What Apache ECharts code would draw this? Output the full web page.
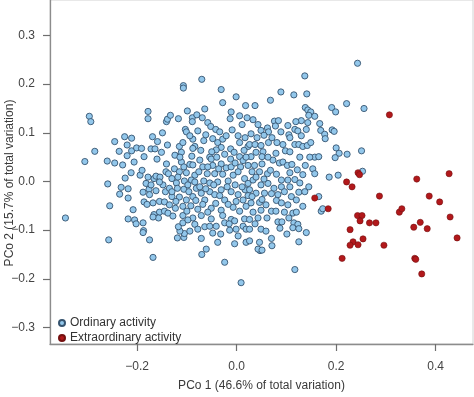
<!DOCTYPE html>
<html>
<head>
<meta charset="utf-8">
<script src="https://cdn.jsdelivr.net/npm/echarts@6/dist/echarts.min.js"></script>
<style>
html,body{margin:0;padding:0;background:#fff;}
#main{width:474px;height:397px;}
</style>
</head>
<body>
<div id="main"></div>
<script>
// PCo 1 / PCo 2 scores
var ordinary = [
	[-0.344,-0.075],[-0.305,0.041],[-0.296,0.134],[-0.293,0.123],[-0.285,0.062],[-0.260,0.042],[-0.245,0.038],
	[-0.259,-0.005],[-0.255,-0.050],[-0.257,-0.120],[-0.245,0.082],[-0.225,0.092],[-0.211,0.089],[-0.236,0.062],
	[-0.220,0.075],[-0.211,0.063],[-0.220,0.053],[-0.201,0.069],[-0.191,0.068],[-0.229,0.034],[-0.206,0.040],
	[-0.212,0.018],[-0.186,0.051],[-0.169,0.092],[-0.159,0.082],[-0.149,0.100],[-0.172,0.067],[-0.164,0.067],
	[-0.139,0.075],[-0.160,0.046],[-0.151,0.060],[-0.141,0.123],[-0.139,0.128],[-0.178,0.144],[-0.178,0.129],
	[-0.133,0.136],[-0.117,0.129],[-0.107,0.197],[-0.107,0.192],[-0.099,0.145],[-0.194,0.013],[-0.190,0.023],
	[-0.224,0.007],[-0.182,-0.004],[-0.166,0.006],[-0.162,0.011],[-0.154,0.009],[-0.141,0.036],[-0.142,0.020],
	[-0.137,0.016],[-0.232,-0.012],[-0.218,-0.015],[-0.235,-0.026],[-0.218,-0.034],[-0.208,-0.058],[-0.218,-0.077],
	[-0.205,-0.079],[-0.202,-0.087],[-0.188,-0.085],[-0.187,-0.101],[-0.188,-0.105],[-0.188,-0.022],[-0.176,-0.016],
	[-0.162,-0.019],[-0.175,-0.027],[-0.186,-0.042],[-0.180,-0.047],[-0.168,-0.044],[-0.155,-0.041],[-0.145,-0.042],
	[-0.155,-0.063],[-0.166,-0.068],[-0.157,-0.075],[-0.168,-0.073],[-0.145,-0.061],[-0.138,-0.065],[-0.175,-0.120],
	[-0.168,-0.156],[-0.172,-0.007],[-0.178,0.009],[-0.143,-0.021],[-0.148,-0.007],[-0.155,-0.001],[-0.119,-0.116],
	[-0.106,-0.115],[-0.105,-0.107],[-0.114,-0.102],[-0.117,-0.093],
	[-0.070,0.210],[-0.031,0.189],[-0.028,0.162],[-0.001,0.174],[0.018,0.156],[-0.089,0.131],[-0.089,0.123],
	[-0.080,0.137],[-0.064,0.149],[-0.069,0.131],[-0.011,0.143],[-0.013,0.129],[0.006,0.135],[0.021,0.131],
	[0.011,0.117],[-0.058,0.121],[-0.052,0.113],[-0.042,0.107],[-0.103,0.107],[-0.101,0.102],[-0.088,0.087],
	[-0.066,0.084],[-0.084,0.072],[-0.088,0.068],[-0.115,0.072],[-0.111,0.060],[-0.038,0.080],[-0.028,0.087],
	[-0.021,0.094],[-0.031,0.070],[-0.041,0.065],[-0.012,0.067],[0.006,0.080],[0.023,0.072],[-0.050,0.061],
	[-0.054,0.050],[-0.051,0.046],[-0.074,0.044],[-0.094,0.035],[-0.111,0.040],[-0.125,0.026],[-0.068,0.030],
	[-0.048,0.033],[-0.031,0.036],[-0.021,0.028],[-0.012,0.046],[0.006,0.051],[0.013,0.043],[0.008,0.030],
	[0.023,0.033],[-0.115,0.020],[-0.101,0.018],[-0.084,0.013],[-0.076,0.020],[-0.059,0.016],[-0.044,0.016],
	[-0.028,0.015],[-0.007,0.013],[0.003,0.020],[-0.130,0.006],[-0.121,-0.003],[-0.105,0.001],[-0.091,0.003],
	[-0.066,0.001],[-0.054,-0.003],[-0.038,-0.001],[-0.017,0.001],[0.016,0.006],[0.023,-0.004],[-0.135,-0.014],
	[-0.119,-0.014],[-0.106,-0.016],[-0.096,-0.021],[-0.081,-0.014],[-0.071,-0.024],[-0.054,-0.021],[-0.044,-0.027],
	[-0.031,-0.017],[-0.011,-0.021],[0.003,-0.027],[0.017,-0.017],[-0.130,-0.031],[-0.115,-0.032],[-0.101,-0.038],
	[-0.088,-0.031],[-0.064,-0.038],[-0.024,-0.038],[0.013,-0.038],[-0.135,-0.048],[-0.123,-0.055],[-0.108,-0.051],
	[-0.092,-0.050],[-0.078,-0.057],[-0.051,-0.055],[-0.031,-0.059],[-0.007,-0.053],[0.006,-0.061],[-0.128,-0.071],
	[-0.108,-0.070],[-0.088,-0.075],[-0.071,-0.070],[-0.051,-0.077],[-0.028,-0.070],[-0.011,-0.078],[0.016,-0.077],
	[-0.108,-0.085],[-0.084,-0.088],[-0.064,-0.093],[-0.054,-0.092],[-0.041,-0.092],[-0.024,-0.085],[-0.004,-0.081],
	[0.013,-0.092],[-0.014,-0.100],[-0.001,-0.098],[0.019,-0.098],[-0.071,-0.117],[-0.038,-0.125],[-0.004,-0.128],
	[0.019,-0.125],[-0.061,-0.139],[-0.070,-0.150],[-0.024,-0.166],[0.009,-0.208],[0.033,0.127],[0.037,0.156],
	[0.047,-0.142],
	[0.137,0.217],[0.089,0.184],[0.115,0.178],[0.141,0.180],[0.068,0.167],[0.138,0.152],[0.143,0.147],
	[0.149,0.143],[0.145,0.136],[0.043,0.117],[0.049,0.105],[0.062,0.110],[0.064,0.102],[0.076,0.124],
	[0.084,0.125],[0.078,0.114],[0.130,0.125],[0.143,0.121],[0.157,0.134],[0.167,0.119],[0.169,0.105],
	[0.177,0.097],[0.178,0.088],[0.117,0.107],[0.123,0.104],[0.130,0.094],[0.140,0.107],[0.105,0.096],
	[0.107,0.090],[0.055,0.095],[0.026,0.076],[0.037,0.076],[0.049,0.074],[0.064,0.080],[0.053,0.061],
	[0.051,0.051],[0.029,0.051],[0.093,0.076],[0.098,0.063],[0.107,0.061],[0.117,0.076],[0.125,0.076],
	[0.133,0.072],[0.142,0.074],[0.149,0.080],[0.157,0.050],[0.165,0.051],[0.147,0.050],[0.138,0.033],
	[0.153,0.026],[0.157,0.016],[0.073,0.044],[0.086,0.038],[0.093,0.040],[0.102,0.033],[0.111,0.035],
	[0.122,0.024],[0.036,0.033],[0.046,0.020],[0.062,0.016],[0.068,0.023],[0.080,0.015],[0.090,0.003],
	[0.103,0.003],[0.117,0.004],[0.127,-0.003],[0.033,0.003],[0.049,-0.007],[0.063,-0.004],[0.075,-0.014],
	[0.090,-0.011],[0.096,-0.021],[0.026,-0.017],[0.039,-0.024],[0.056,-0.024],[0.070,-0.025],[0.080,-0.039],
	[0.090,-0.044],[0.103,-0.048],[0.110,-0.031],[0.120,-0.038],[0.125,-0.022],[0.029,-0.044],[0.046,-0.043],
	[0.059,-0.048],[0.070,-0.061],[0.049,-0.059],[0.033,-0.063],[0.096,-0.063],[0.113,-0.065],[0.120,-0.063],
	[0.026,-0.078],[0.043,-0.075],[0.026,-0.098],[0.049,-0.098],[0.083,-0.083],[0.091,-0.083],[0.115,-0.085],
	[0.123,-0.088],[0.113,-0.095],[0.125,-0.097],[0.140,-0.105],[0.070,-0.117],[0.071,-0.132],[0.046,-0.125],
	[0.043,-0.139],[0.051,-0.141],[0.125,-0.124],[0.117,-0.181],[0.026,-0.122],[0.186,0.009],[0.165,-0.031],
	[0.170,-0.061],[0.173,-0.056],
	[0.192,0.106],[0.196,0.103],[0.200,0.069],[0.206,0.058],[0.198,0.049],[0.222,0.056],[0.251,0.063],
	[0.204,0.013],[0.253,0.021],[0.243,0.243],[0.191,0.152],[0.199,0.143],[0.221,0.160],[0.256,0.150],
	[-0.124,0.054],[-0.108,0.080],[-0.094,0.094],[-0.078,0.104],[-0.062,0.096],[-0.048,0.088],[-0.034,0.102],
	[-0.009,0.106],[0.003,0.094],[0.017,0.090],[0.029,0.098],[0.041,0.090],[-0.130,-0.021],[-0.118,0.009],
	[-0.098,-0.007],[-0.084,-0.001],[-0.074,-0.011],[-0.062,-0.015],[-0.046,-0.007],[-0.034,-0.029],[-0.019,-0.011],
	[-0.003,-0.007],[0.011,-0.011],[0.023,-0.029],[-0.122,-0.041],[-0.100,-0.061],[-0.082,-0.039],[-0.068,-0.047],
	[-0.058,-0.063],[-0.042,-0.045],[-0.017,-0.047],[-0.001,-0.041],[0.019,-0.051],[0.031,-0.031],[-0.098,-0.079],
	[-0.078,-0.098],[-0.048,-0.106],[-0.032,-0.108],[-0.015,-0.087],[0.003,-0.112],[-0.094,-0.102],[-0.114,0.050],
	[-0.090,0.052],[-0.072,0.064],[-0.040,0.050],[-0.024,0.056],[-0.005,0.060],[0.015,0.064],[0.039,0.060],
	[0.019,0.050],[-0.106,0.030],[-0.088,0.034],[-0.058,0.030],[-0.036,0.026],[-0.011,0.030],[-0.003,0.038],
	[0.031,0.020],[0.039,0.009],[0.055,0.005],[0.051,0.036],[0.063,0.050],[0.079,0.058],[0.081,0.080],
	[0.071,0.090],[0.089,0.102],[0.103,0.115],[0.119,0.123],[0.107,0.018],[0.127,0.050],[0.133,0.014],
	[0.083,-0.027],[0.107,-0.011],[0.051,-0.037],[0.061,-0.075],[0.079,-0.061],[0.105,-0.075],[0.133,-0.051],
	[0.145,-0.011],[0.101,-0.108],[0.087,-0.096],[0.059,-0.102],[0.037,-0.087],[0.137,-0.021]
];
var extraordinary = [
	[0.307,0.137],[0.244,0.018],[0.247,0.014],[0.221,-0.001],[0.232,-0.011],[0.287,-0.030],[0.362,0.005],
	[0.427,0.016],[0.387,-0.030],[0.408,-0.042],[0.184,-0.056],[0.327,-0.063],[0.332,-0.056],[0.243,-0.070],
	[0.252,-0.070],[0.248,-0.081],[0.267,-0.085],[0.280,-0.085],[0.228,-0.099],[0.429,-0.073],[0.369,-0.084],
	[0.356,-0.094],[0.383,-0.097],[0.254,-0.118],[0.234,-0.124],[0.228,-0.131],[0.244,-0.130],[0.296,-0.131],
	[0.443,-0.116],[0.212,-0.158],[0.358,-0.158],[0.360,-0.160],[0.372,-0.190],[0.157,-0.034]
];
var seriesNames = ['Ordinary activity', 'Extraordinary activity'];
var xTicks = [-0.2, 0.0, 0.2, 0.4];
var yTicks = [-0.3, -0.2, -0.1, 0.0, 0.1, 0.2, 0.3];

var fontFam = '"Liberation Sans", Arial, Helvetica, sans-serif';
function fmt(v) {
	return (v < 0 ? '\u2212' : '') + Math.abs(v).toFixed(1);
}

var chart = echarts.init(document.getElementById('main'), null, {renderer: 'canvas'});
var option = {
	animation: false,
	backgroundColor: '#fff',
	textStyle: {fontFamily: fontFam},
	grid: {
		left: 50, right: 1, top: 0, bottom: 47,
		show: true, borderColor: '#d2d2d2', borderWidth: 1
	},
	xAxis: {
		type: 'value',
		min: -0.375, max: 0.475,
		name: 'PCo 1 (46.6% of total variation)',
		nameLocation: 'middle',
		nameGap: 36,
		nameTextStyle: {fontSize: 12, color: '#3a3a3a', fontFamily: fontFam},
		axisLine: {show: true, onZero: false, lineStyle: {color: '#8c8c8c', width: 1.3}},
		axisTick: {show: true, length: 7, customValues: xTicks, lineStyle: {color: '#6e6e6e', width: 1.2}},
		axisLabel: {customValues: xTicks, formatter: fmt, margin: 17, fontSize: 12, color: '#444', fontFamily: fontFam},
		splitLine: {show: false}
	},
	yAxis: {
		type: 'value',
		min: -0.334, max: 0.373,
		axisLine: {show: true, onZero: false, lineStyle: {color: '#8c8c8c', width: 1.3}},
		axisTick: {show: true, length: 7, customValues: yTicks, lineStyle: {color: '#6e6e6e', width: 1.2}},
		axisLabel: {customValues: yTicks, formatter: fmt, margin: 15, fontSize: 12, color: '#444', fontFamily: fontFam},
		splitLine: {show: false}
	},
	legend: {
		data: seriesNames,
		orient: 'vertical',
		left: 53, top: 312,
		itemWidth: 6, itemHeight: 6,
		itemGap: 3, itemTextGap: 8,
		icon: 'circle',
		textStyle: {fontSize: 12, color: '#333', fontFamily: fontFam}
	},
	graphic: [{
		type: 'text',
		x: 10, y: 183,
		rotation: Math.PI / 2,
		style: {
			text: 'PCo 2 (15.7% of total variation)',
			fill: '#3a3a3a',
			font: '12px ' + fontFam,
			align: 'center',
			verticalAlign: 'middle'
		}
	}],
	series: [{
		name: seriesNames[0],
		type: 'scatter',
		data: ordinary,
		symbolSize: 6.2,
		itemStyle: {color: '#92c7eb', borderColor: '#36546f', borderWidth: 0.9, opacity: 1}
	}, {
		name: seriesNames[1],
		type: 'scatter',
		data: extraordinary,
		symbolSize: 6.2,
		itemStyle: {color: '#b2181b', borderColor: '#741010', borderWidth: 0.6, opacity: 1}
	}]
};
chart.setOption(option);
</script>
</body>
</html>
